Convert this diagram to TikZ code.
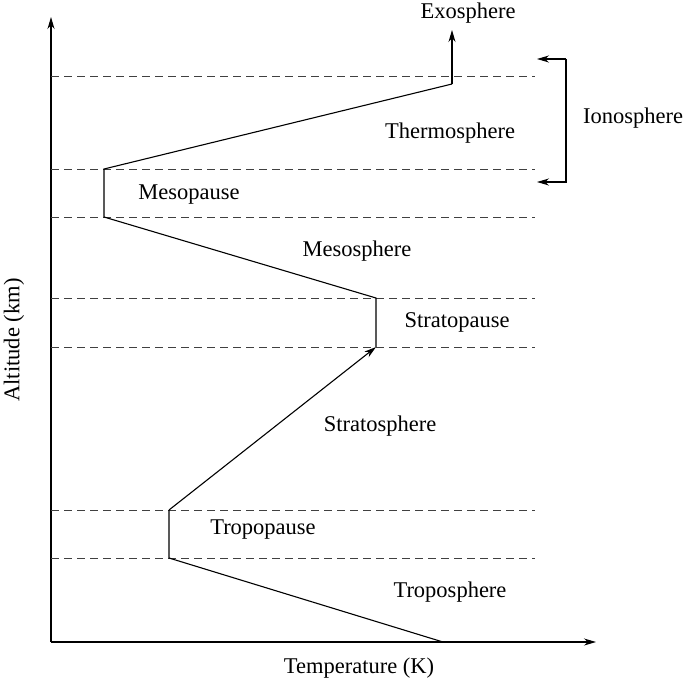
\documentclass[tikz,border=0pt]{standalone}
\usepackage{fontspec}
\setmainfont{Liberation Serif}
\usetikzlibrary{arrows.meta}
\begin{document}
\begin{tikzpicture}[x=1pt,y=-1pt,
  lbl/.style={font=\fontsize{22.5}{25}\selectfont, inner sep=0pt},
  axis/.style={line width=1.1pt,-{Stealth[length=12pt,width=7pt]}},
  level/.style={dashed, dash pattern=on 8pt off 5pt, line width=0.8pt, black!75},
  prof/.style={line width=1.1pt},
  tip/.style={-{Stealth[length=12pt,width=7pt]}}]
\useasboundingbox (0,0) rectangle (685,685);
% axes
\coordinate (O) at (51,642);
\coordinate (Ytop) at (51,17);
\coordinate (Xend) at (596,642);
\draw[axis] (O) -- (Ytop);
\draw[axis] (O) -- (Xend);
% levels
\foreach \y/\n in {76/a,169/b,217/c,298/d,347/e,510/f,558/g}{
  \coordinate (L\n) at (51,\y);
  \coordinate (R\n) at (535,\y);
  \draw[level] (L\n) -- (R\n);
}
% profile
\coordinate (p0) at (443,642);
\coordinate (p1) at (169,558);
\coordinate (p2) at (169,510);
\coordinate (p3) at (376,347);
\coordinate (p4) at (376,298);
\coordinate (p5) at (104,217);
\coordinate (p6) at (104,169);
\coordinate (p7) at (452,84);
\coordinate (p8) at (452,30);
\draw[prof] (p0) -- (p1) -- (p2);
\draw[prof,tip] (p2) -- (p3);
\draw[prof] (p3) -- (p4) -- (p5) -- (p6) -- (p7);
\draw[prof,tip] (p7) -- (p8);
% ionosphere bracket
\coordinate (b1) at (537,59);
\coordinate (b2) at (566,59);
\coordinate (b3) at (566,182);
\coordinate (b4) at (537,182);
\draw[prof,tip] (b2) -- (b1);
\draw[prof,tip] (b2) -- (b3) -- (b4);
% labels
\node[lbl] (exo) at (468,13) {Exosphere};
\node[lbl] (iono) at (633,118) {Ionosphere};
\node[lbl] (thermo) at (450,133) {Thermosphere};
\node[lbl] (mesop) at (189,195) {Mesopause};
\node[lbl] (meso) at (357,251) {Mesosphere};
\node[lbl] (stratp) at (457,322) {Stratopause};
\node[lbl] (strat) at (380,426) {Stratosphere};
\node[lbl] (tropp) at (263,530) {Tropopause};
\node[lbl] (trop) at (450,592) {Troposphere};
\node[lbl] (xl) at (359,668) {Temperature (K)};
\node[lbl,rotate=90] (yl) at (14,340) {Altitude (km)};
\end{tikzpicture}
\end{document}
